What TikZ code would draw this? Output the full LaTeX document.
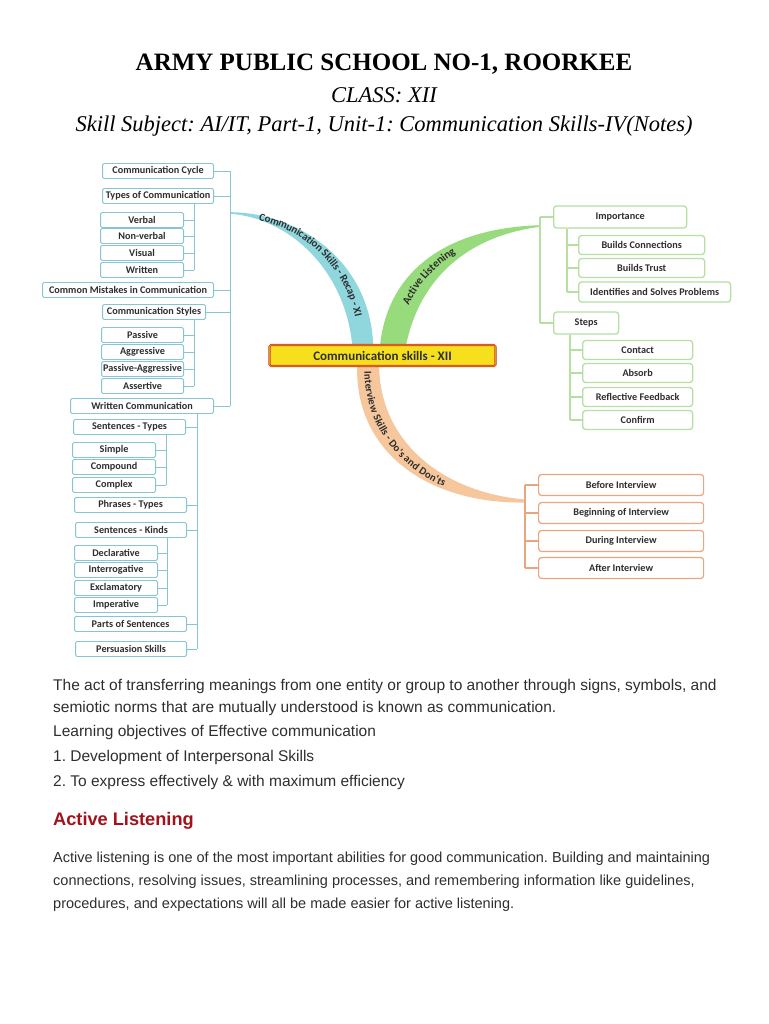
\documentclass[tikz,border=0pt]{standalone}
\usepackage{fontspec}
\setmainfont{Liberation Serif}
\newfontfamily\boxfont{Carlito}
\newfontfamily\bodyfont{Liberation Sans}
\usetikzlibrary{positioning,calc,backgrounds,decorations.text,shadows}
\definecolor{cTeal}{HTML}{8FD6DD}
\definecolor{cTealLine}{HTML}{86C6D4}
\definecolor{cGreen}{HTML}{98DB7C}
\definecolor{cGreenLine}{HTML}{B6DFA2}
\definecolor{cOrange}{HTML}{F6C69C}
\definecolor{cOrangeLine}{HTML}{E9A67E}
\definecolor{cHubFill}{HTML}{F6E01E}
\definecolor{cHubLine}{HTML}{C8431C}
\definecolor{cHubInner}{HTML}{F08C2C}
\definecolor{cInk}{HTML}{2E2E2E}
\definecolor{cHead}{HTML}{A3121A}
\newcommand{\bxfont}{\boxfont\bfseries\fontsize{10.2}{11}\selectfont}
\frenchspacing
\tikzset{
  lbox/.style={draw=cTealLine,fill=white,rounded corners=1.5pt,line width=0.9pt,font=\bxfont,text=cInk,inner xsep=1pt,inner ysep=0pt,minimum height=15pt},
  gbox/.style={draw=cGreenLine,fill=white,rounded corners=3pt,line width=1.3pt,font=\bxfont,text=cInk,inner xsep=1pt,inner ysep=0pt},
  obox/.style={draw=cOrangeLine,fill=white,rounded corners=3pt,line width=1.2pt,font=\bxfont,text=cInk,inner xsep=1pt,inner ysep=0pt,minimum height=21pt,minimum width=165pt},
  hub/.style={draw=cHubLine,double=cHubInner,double distance=0.7pt,line width=0.7pt,fill=cHubFill,rounded corners=1.5pt,
    drop shadow={opacity=0.25,shadow xshift=1pt,shadow yshift=-1.2pt},
    font=\boxfont\bfseries\fontsize{13}{15}\selectfont,text=cInk,minimum width=226pt,minimum height=21pt,inner sep=0pt},
  tline/.style={draw=cTealLine,line width=0.9pt},
  gline/.style={draw=cGreenLine,line width=1.2pt},
  oline/.style={draw=cOrangeLine,line width=1.1pt},
  rlabel/.style n args={2}{decorate,decoration={text along path,text align=center,raise=-3.8pt,text color=cInk,
    text={|\boxfont\bfseries\fontsize{#1}{#1}\selectfont|#2}}},
  para/.style={font=\bodyfont\fontsize{15.5}{19}\selectfont,text=cInk,inner sep=0pt,anchor=base west},
  para2/.style={para,font=\bodyfont\fontsize{14.5}{17}\selectfont},
}
\begin{document}
\begin{tikzpicture}[x=1pt,y=-1pt]
\useasboundingbox (0,0) rectangle (768,1024);
% heading
\node[anchor=base,font=\bfseries\fontsize{25}{30}\selectfont] (school) at (384,71) {ARMY PUBLIC SCHOOL NO-1, ROORKEE};
\node[anchor=base,font=\itshape\fontsize{22.5}{27}\selectfont] (class) at (384,103) {CLASS: XII};
\node[anchor=base,font=\itshape\fontsize{22.5}{27}\selectfont] (subject) at (384,132) {Skill Subject: AI/IT, Part-1, Unit-1: Communication Skills-IV(Notes)};

% central topic
\node[hub] (hub) at (382.5,355.5) {Communication skills - XII};

% left branch: recap
\foreach \n/\x/\y/\w/\t in {cycle/214/171/111/Communication Cycle, types/214/196/111/Types of Communication,
    verbal/184/220/83/Verbal, nonverbal/184/236/83/Non-verbal, visual/184/253/83/Visual, written/184/270/83/Written,
    mistakes/214/290/171/Common Mistakes in Communication, styles/206/312/103/Communication Styles,
    passive/184/335/82/Passive, aggressive/184/352/82/Aggressive, pasaggr/184/369/82/Passive-Aggressive, assertive/184/386/82/Assertive,
    wcomm/214/406/143/Written Communication, sentypes/186/427/112/Sentences - Types,
    simple/156/450/83/Simple, compound/156/467/83/Compound, complex/156/485/83/Complex,
    phrases/187/505/112/Phrases - Types, senkinds/187/530/111/Sentences - Kinds,
    declar/158/553/83/Declarative, interrog/158/570/83/Interrogative, exclam/158/588/83/Exclamatory, imper/158/605/83/Imperative,
    parts/187/624/112/Parts of Sentences, persuasion/187/649/111/Persuasion Skills}
  \node[lbox,minimum width=\w pt,anchor=east] (\n) at (\x,\y) {\t};

\coordinate (lspine) at (230,0);
\coordinate (tspine) at (194,0);
\coordinate (sspine) at (194,0);
\coordinate (wspine) at (197,0);
\coordinate (stspine) at (166,0);
\coordinate (skspine) at (167,0);
\coordinate (recapRoot) at (231,213);
\draw[tline] (cycle.east -| lspine) -- (wcomm.east -| lspine);
\foreach \n in {cycle,types,mistakes,styles,wcomm}
  \draw[tline] (\n.east) -- (\n.east -| lspine);
\draw[tline] (types.south -| tspine) -- (written.east -| tspine);
\foreach \n in {verbal,nonverbal,visual,written}
  \draw[tline] (\n.east) -- (\n.east -| tspine);
\draw[tline] (styles.south -| sspine) -- (assertive.east -| sspine);
\foreach \n in {passive,aggressive,pasaggr,assertive}
  \draw[tline] (\n.east) -- (\n.east -| sspine);
\draw[tline] (wcomm.south -| wspine) -- (persuasion.east -| wspine);
\foreach \n in {sentypes,phrases,senkinds,parts,persuasion}
  \draw[tline] (\n.east) -- (\n.east -| wspine);
\draw[tline] (sentypes.south -| stspine) -- (complex.east -| stspine);
\foreach \n in {simple,compound,complex}
  \draw[tline] (\n.east) -- (\n.east -| stspine);
\draw[tline] (senkinds.south -| skspine) -- (imper.east -| skspine);
\foreach \n in {declar,interrog,exclam,imper}
  \draw[tline] (\n.east) -- (\n.east -| skspine);

% right branch: active listening
\foreach \n/\x/\y/\w/\h/\t in {imp/553/217/133/22/Importance, bconn/578/245/126/19/Builds Connections, btrust/578/268/126/19/Builds Trust,
    idsolve/578/292/152/20/Identifies and Solves Problems, steps/553/323/65/22/Steps,
    contact/582/350/110/19/Contact, absorb/582/373/110/19/Absorb, reflect/582/397/110/19/Reflective Feedback, confirm/582/420/110/19/Confirm}
  \node[gbox,minimum width=\w pt,minimum height=\h pt,anchor=west] (\n) at (\x,\y) {\t};
\coordinate (gspine) at (540,0);
\coordinate (ispine) at (567,0);
\coordinate (pspine) at (570,0);
\coordinate (listenRoot) at (540,226);
\draw[gline] (imp.west -| gspine) -- (steps.west -| gspine);
\foreach \n in {imp,steps}
  \draw[gline] (\n.west) -- (\n.west -| gspine);
\draw[gline] (imp.south -| ispine) -- (idsolve.west -| ispine);
\foreach \n in {bconn,btrust,idsolve}
  \draw[gline] (\n.west) -- (\n.west -| ispine);
\draw[gline] (steps.south -| pspine) -- (confirm.west -| pspine);
\foreach \n in {contact,absorb,reflect,confirm}
  \draw[gline] (\n.west) -- (\n.west -| pspine);

% lower branch: interview
\foreach \n/\y/\t in {before/485/Before Interview, beginning/513/Beginning of Interview, during/541/During Interview, after/568/After Interview}
  \node[obox,anchor=west] (\n) at (538,\y) {\t};
\coordinate (ospine) at (525,0);
\coordinate (interRoot) at (525,501);
\draw[oline] (before.west -| ospine) -- (after.west -| ospine);
\foreach \n in {before,beginning,during,after}
  \draw[oline] (\n.west) -- (\n.west -| ospine);

% ribbons
\begin{scope}[on background layer]
\fill[cTeal] ([yshift=0.8pt]recapRoot) .. controls (300,213) and (370,262) .. ($(hub.north west)+(104,0)$)
  -- ($(hub.north west)+(83,0)$) .. controls (345,272) and (292,219) .. ([yshift=-0.8pt]recapRoot) -- cycle;
\fill[cGreen] ($(hub.north west)+(111,0)$) .. controls (388,272) and (445,228) .. ([yshift=0.8pt]listenRoot)
  -- ([yshift=-0.8pt]listenRoot) .. controls (468,236) and (420,278) .. ($(hub.north west)+(137,0)$) -- cycle;
\fill[cOrange] ($(hub.south west)+(88,0)$) .. controls (355,452) and (428,504) .. ([yshift=-1.5pt]interRoot)
  -- ([yshift=1.5pt]interRoot) .. controls (440,492) and (380,440) .. ($(hub.south west)+(110,0)$) -- cycle;
\end{scope}
\path[rlabel={10.8}{Communication Skills - Recap - XI}] (recapRoot) .. controls (300,215) and (359,263) .. ($(hub.north west)+(93.5,0)$);
\path[rlabel={11.2}{Active Listening},decoration={text align={left,left indent=43pt}}] ($(hub.north west)+(124,0)$) .. controls (403,274) and (457,231) .. (listenRoot);
\path[rlabel={10.6}{Interview Skills - Do's and Don'ts},decoration={text align={left,left indent=5pt}}] ($(hub.south west)+(99,0)$) .. controls (367,446) and (432,497) .. (interRoot);

% notes
\node[para] (def1) at (53,690) {The act of transferring meanings from one entity or group to another through signs, symbols, and};
\node[para] (def2) at (53,712) {semiotic norms that are mutually understood is known as communication.};
\node[para] (obj) at (53,736) {Learning objectives of Effective communication};
\node[para] (obj1) at (53,761) {1. Development of Interpersonal Skills};
\node[para] (obj2) at (53,786) {2. To express effectively \& with maximum efficiency};
\node[para,font=\bodyfont\bfseries\fontsize{18.2}{22}\selectfont,text=cHead] (alhead) at (53,825) {Active Listening};
\node[para2] (al1) at (53,862) {Active listening is one of the most important abilities for good communication. Building and maintaining};
\node[para2] (al2) at (53,885) {connections, resolving issues, streamlining processes, and remembering information like guidelines,};
\node[para2] (al3) at (53,908) {procedures, and expectations will all be made easier for active listening.};
\end{tikzpicture}
\end{document}
